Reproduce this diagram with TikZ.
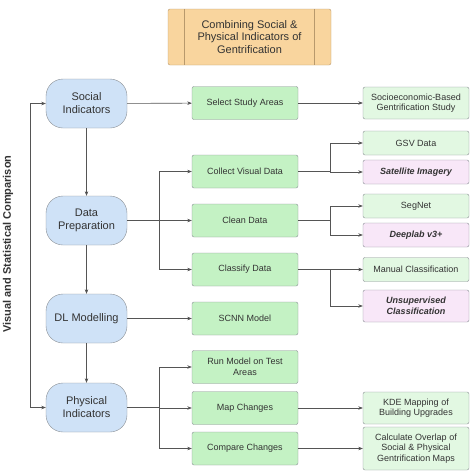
\documentclass[tikz,border=0pt]{standalone}
\usepackage{fontspec}
\setmainfont{Liberation Sans}
\usepackage{tikz}
\usetikzlibrary{arrows.meta, calc, positioning}

\definecolor{indblue}{HTML}{CFE2F7}
\definecolor{stepgreen}{HTML}{C4F2C4}
\definecolor{outgreen}{HTML}{E2F8E2}
\definecolor{outpink}{HTML}{F8E7F8}
\definecolor{headorange}{HTML}{F9D59E}
\definecolor{headedge}{HTML}{B8996C}
\definecolor{boxgray}{HTML}{8A8F94}
\definecolor{linegray}{HTML}{555555}
\definecolor{textgray}{HTML}{333333}

\begin{document}
\begin{tikzpicture}[x=1pt, y=-1pt,
    >={Stealth[length=4.5pt, width=3.5pt]},
    conn/.style={draw=linegray, line width=0.6pt},
    ind/.style={draw=boxgray, fill=indblue, rounded corners=17pt, inner sep=0pt,
        minimum width=81pt, minimum height=49pt, align=center, text=textgray,
        font=\fontsize{11}{13}\selectfont},
    stepbox/.style={draw=boxgray, fill=stepgreen, rounded corners=2pt, inner sep=0pt,
        minimum width=106pt, minimum height=33pt, align=center, text=textgray,
        font=\fontsize{9}{10.7}\selectfont},
    outbox/.style={draw=boxgray, fill=outgreen, rounded corners=2pt, inner sep=0pt,
        minimum width=106pt, minimum height=24pt, align=center, text=textgray,
        font=\fontsize{9}{10.6}\selectfont},
    newbox/.style={outbox, fill=outpink, font=\fontsize{9}{10.6}\selectfont\bfseries\itshape}]

    \useasboundingbox (0, 0) rectangle (474, 474);

    % heading
    \node (head) at (249.5, 37) [draw=headedge, fill=headorange, rounded corners=2pt,
        minimum width=163pt, minimum height=56pt, align=center, text=textgray,
        font=\fontsize{11}{12.8}\selectfont]
        {Combining Social \&\\Physical Indicators of\\Gentrification};
    \draw[draw=headedge, line width=0.6pt] ([xshift=16pt]head.north west) -- ([xshift=16pt]head.south west)
        ([xshift=-17pt]head.north east) -- ([xshift=-17pt]head.south east);

    % side label
    \node (cmp) at (8, 244) [rotate=90, text=textgray, font=\fontsize{11}{13}\selectfont\bfseries]
        {Visual and Statistical Comparison};

    % indicators
    \node[ind] (si) at (86.5, 103.5) {Social\\Indicators};
    \node[ind] (dp) at (86.5, 220.5) {Data\\Preparation};
    \node[ind] (dl) at (86.5, 318.5) {DL Modelling};
    \node[ind] (pi) at (86.5, 407.5) {Physical\\Indicators};

    % steps
    \node[stepbox] (ssa) at (245, 103) {Select Study Areas};
    \node[stepbox] (cvd) at (245, 171.5) {Collect Visual Data};
    \node[stepbox] (cd) at (245, 220.5) {Clean Data};
    \node[stepbox] (cld) at (245, 269.5) {Classify Data};
    \node[stepbox] (scnn) at (245, 318.5) {SCNN Model};
    \node[stepbox] (rm) at (245, 367) {Run Model on Test\\Areas};
    \node[stepbox] (mc) at (245, 408) {Map Changes};
    \node[stepbox] (cc) at (245, 448.5) {Compare Changes};

    % outputs
    \node[outbox, minimum height=32pt] (seb) at (416, 103) {Socioeconomic-Based\\Gentrification Study};
    \node[outbox] (gsv) at (416, 143) {GSV Data};
    \node[newbox] (sat) at (416, 172) {Satellite Imagery};
    \node[outbox] (sn) at (416, 206) {SegNet};
    \node[newbox] (dlab) at (416, 235) {Deeplab v3+};
    \node[outbox] (man) at (416, 269.5) {Manual Classification};
    \node[newbox, minimum height=32pt] (uns) at (416, 306) {Unsupervised\\Classification};
    \node[outbox, minimum height=32pt] (kde) at (416, 408) {KDE Mapping of\\Building Upgrades};
    \node[outbox, minimum height=43pt] (ov) at (416, 448.5) {Calculate Overlap of\\Social \& Physical\\Gentrification Maps};

    \draw[conn]
    (si) edge[->] (dp)
    (dp) edge[->] (dl)
    (dl) edge[->] (pi)
    (si) edge[->] (ssa)
    (ssa) edge[->] (seb)
    (dl) edge[->] (scnn)
    (cld) edge[->] (man)
    (mc) edge[->] (kde)
    (cc) edge[->] (ov);

    \draw[conn, <->] (si.west) -- ++(-16, 0) |- (pi.west);

    \draw[conn, ->] (dp.east) -- ++(32.5, 0) |- (cvd.west);
    \draw[conn, ->] (dp.east) -- (cd.west);
    \draw[conn, ->] (dp.east) -- ++(32.5, 0) |- (cld.west);

    \draw[conn, ->] (pi.east) -- ++(32.5, 0) |- (rm.west);
    \draw[conn, ->] (pi.east) -- ++(32.5, 0) |- (mc.west);
    \draw[conn, ->] (pi.east) -- ++(32.5, 0) |- (cc.west);

    \draw[conn, ->] (cvd.east) -- ++(32.5, 0) |- (gsv.west);
    \draw[conn, ->] (cvd.east) -- ++(32.5, 0) |- (sat.west);
    \draw[conn, ->] (cd.east) -- ++(32.5, 0) |- (sn.west);
    \draw[conn, ->] (cd.east) -- ++(32.5, 0) |- (dlab.west);
    \draw[conn, ->] (cld.east) -- ++(32.5, 0) |- (uns.west);
\end{tikzpicture}
\end{document}
